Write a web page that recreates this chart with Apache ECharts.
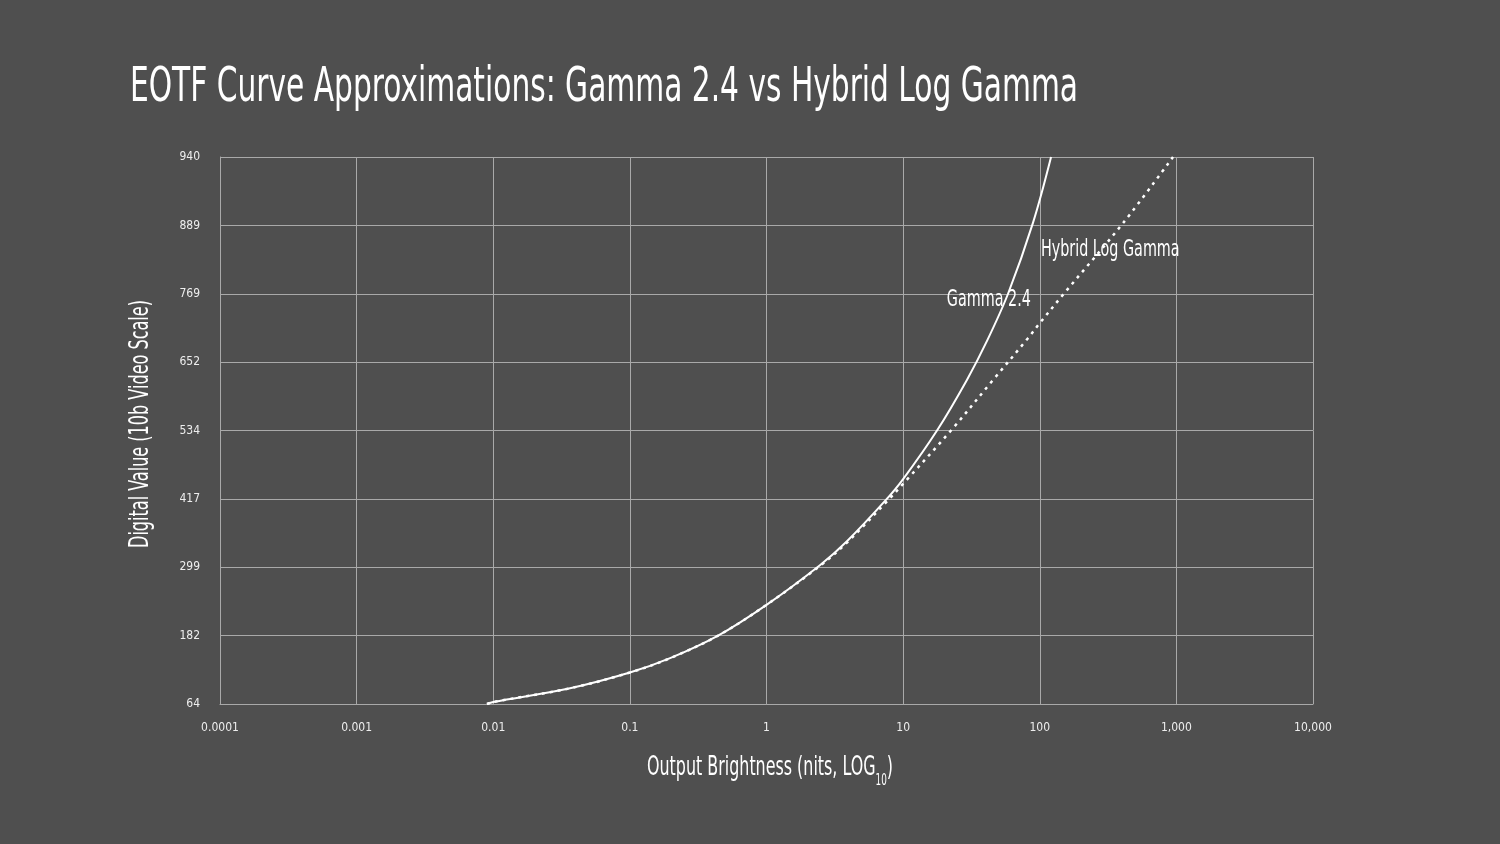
<!DOCTYPE html>
<html>
<head>
<meta charset="utf-8">
<script src="https://cdn.jsdelivr.net/npm/echarts@6/dist/echarts.min.js"></script>
<style>
  html, body { margin: 0; padding: 0; background: #4f4f4f; }
  #chart { width: 1500px; height: 844px; }
</style>
</head>
<body>
<div id="chart"></div>
<script>
// ---- Data ----
// x: output brightness in nits; y: position on the digital-value axis in tick steps (0 = "64", 8 = "940")
const gammaNits  = [0.009, 0.01, 0.0365, 0.1, 0.197, 0.442, 1.0, 2.46, 3.88, 7.37, 10,   17.7, 29.3, 41.1, 58.6, 89.3, 121];
const gammaLevel = [0.0,   0.03, 0.23,   0.46, 0.67, 1.0,  1.45, 2.03, 2.38, 2.97, 3.29, 4.0,  4.74, 5.31, 6.0,  7.04, 8.0];

const hlgNits  = [0.009, 0.01, 0.0365, 0.1, 0.197, 0.442, 1.0, 2.46, 3.88, 7.75, 10,   22.4, 44.7, 82.0, 100,  153,  406,  945];
const hlgLevel = [0.0,   0.03, 0.23,   0.46, 0.67, 1.0,  1.45, 2.02, 2.36, 2.98, 3.22, 4.0,  4.72, 5.35, 5.57, 6.02, 7.03, 8.0];

const yTickLabels = ['64', '182', '299', '417', '534', '652', '769', '889', '940'];
const xTickLabels = ['0.0001', '0.001', '0.01', '0.1', '1', '10', '100', '1,000', '10,000'];

// series name labels, anchored (left-middle) in data coordinates [nits, level]
const seriesLabels = [
  { name: 'Gamma 2.4', at: [20.9, 5.91] },
  { name: 'Hybrid Log Gamma', at: [102, 6.64] }
];

const titleText = 'EOTF Curve Approximations: Gamma 2.4 vs Hybrid Log Gamma';
const xAxisName = 'Output Brightness (nits, LOG';
const xAxisNameSub = '10';
const yAxisName = 'Digital Value (10b Video Scale)';

// ---- Helpers ----
const FAMILY = '"DejaVu Sans Condensed", "Liberation Sans Narrow", sans-serif';
const measureCtx = document.createElement('canvas').getContext('2d');
function textWidth(str, size) {
  measureCtx.font = size + 'px ' + FAMILY;
  return measureCtx.measureText(str).width;
}
// condensed text: horizontally scaled so that it spans targetWidth
function condensedText(str, size, targetWidth, x, y, opts) {
  opts = opts || {};
  return {
    type: 'text', x: x, y: y,
    rotation: opts.rotation || 0,
    scaleX: targetWidth / textWidth(str, size),
    z: 100,
    style: {
      text: str, fill: '#ffffff', fontFamily: FAMILY, fontSize: size,
      align: opts.align || 'left', verticalAlign: 'middle'
    }
  };
}
const zip = (xs, ys) => xs.map((x, i) => [x, ys[i]]);

// ---- Chart ----
const chart = echarts.init(document.getElementById('chart'));
const gridLine = { color: '#a9a9a9', width: 1 };
chart.setOption({
  backgroundColor: '#4f4f4f',
  animation: false,
  grid: { left: 220, right: 187, top: 157, bottom: 140, containLabel: false },
  xAxis: {
    type: 'log', logBase: 10, min: 0.0001, max: 10000,
    axisLine: { show: true, lineStyle: gridLine },
    axisTick: { show: false },
    axisLabel: {
      color: '#eeeeee', fontFamily: FAMILY, fontSize: 12, margin: 18,
      formatter: v => xTickLabels[Math.round(Math.log10(v)) + 4]
    },
    splitLine: { show: true, lineStyle: gridLine }
  },
  yAxis: {
    type: 'value', min: 0, max: 8, interval: 1,
    axisLine: { show: true, lineStyle: gridLine },
    axisTick: { show: false },
    axisLabel: {
      color: '#eeeeee', fontFamily: FAMILY, fontSize: 12, margin: 20,
      formatter: v => yTickLabels[Math.round(v)]
    },
    splitLine: { show: true, lineStyle: gridLine }
  },
  series: [
    {
      name: 'Gamma 2.4', type: 'line', smooth: 0.35, showSymbol: false,
      data: zip(gammaNits, gammaLevel),
      lineStyle: { color: '#ffffff', width: 2 },
      z: 3
    },
    {
      name: 'Hybrid Log Gamma', type: 'line', smooth: 0.35, showSymbol: false,
      data: zip(hlgNits, hlgLevel),
      lineStyle: { color: '#ffffff', width: 2.5, type: [3, 5], cap: 'butt' },
      z: 3
    }
  ]
});

// ---- Texts (title, axis names, series labels) in a condensed face ----
const graphics = [];
graphics.push(condensedText(titleText, 48, 948, 130, 89));

// y axis name, rotated
graphics.push(condensedText(yAxisName, 27, 248, 141, 424, { rotation: Math.PI / 2, align: 'center' }));

// x axis name with subscript
const xMainSize = 27, xSubSize = 15;
const xNameW = textWidth(xAxisName + ')', xMainSize) + textWidth(xAxisNameSub, xSubSize);
graphics.push({
  type: 'text', x: 770, y: 764, scaleX: 246 / xNameW, z: 100,
  style: {
    text: '{a|' + xAxisName + '}{s|' + xAxisNameSub + '}{a|)}',
    align: 'center', verticalAlign: 'middle',
    rich: {
      a: { fill: '#ffffff', fontFamily: FAMILY, fontSize: xMainSize, lineHeight: 34, verticalAlign: 'bottom' },
      s: { fill: '#ffffff', fontFamily: FAMILY, fontSize: xSubSize, lineHeight: 34, verticalAlign: 'bottom', padding: [0, 0, -8, 0] }
    }
  }
});

// series labels anchored to data coordinates via the chart's scales
const labelSize = 23;
const labelScale = 84 / textWidth('Gamma 2.4', labelSize);
seriesLabels.forEach(l => {
  const p = chart.convertToPixel({ gridIndex: 0 }, l.at);
  graphics.push(condensedText(l.name, labelSize, textWidth(l.name, labelSize) * labelScale, p[0], p[1]));
});

chart.setOption({ graphic: { elements: graphics } });
</script>
</body>
</html>
